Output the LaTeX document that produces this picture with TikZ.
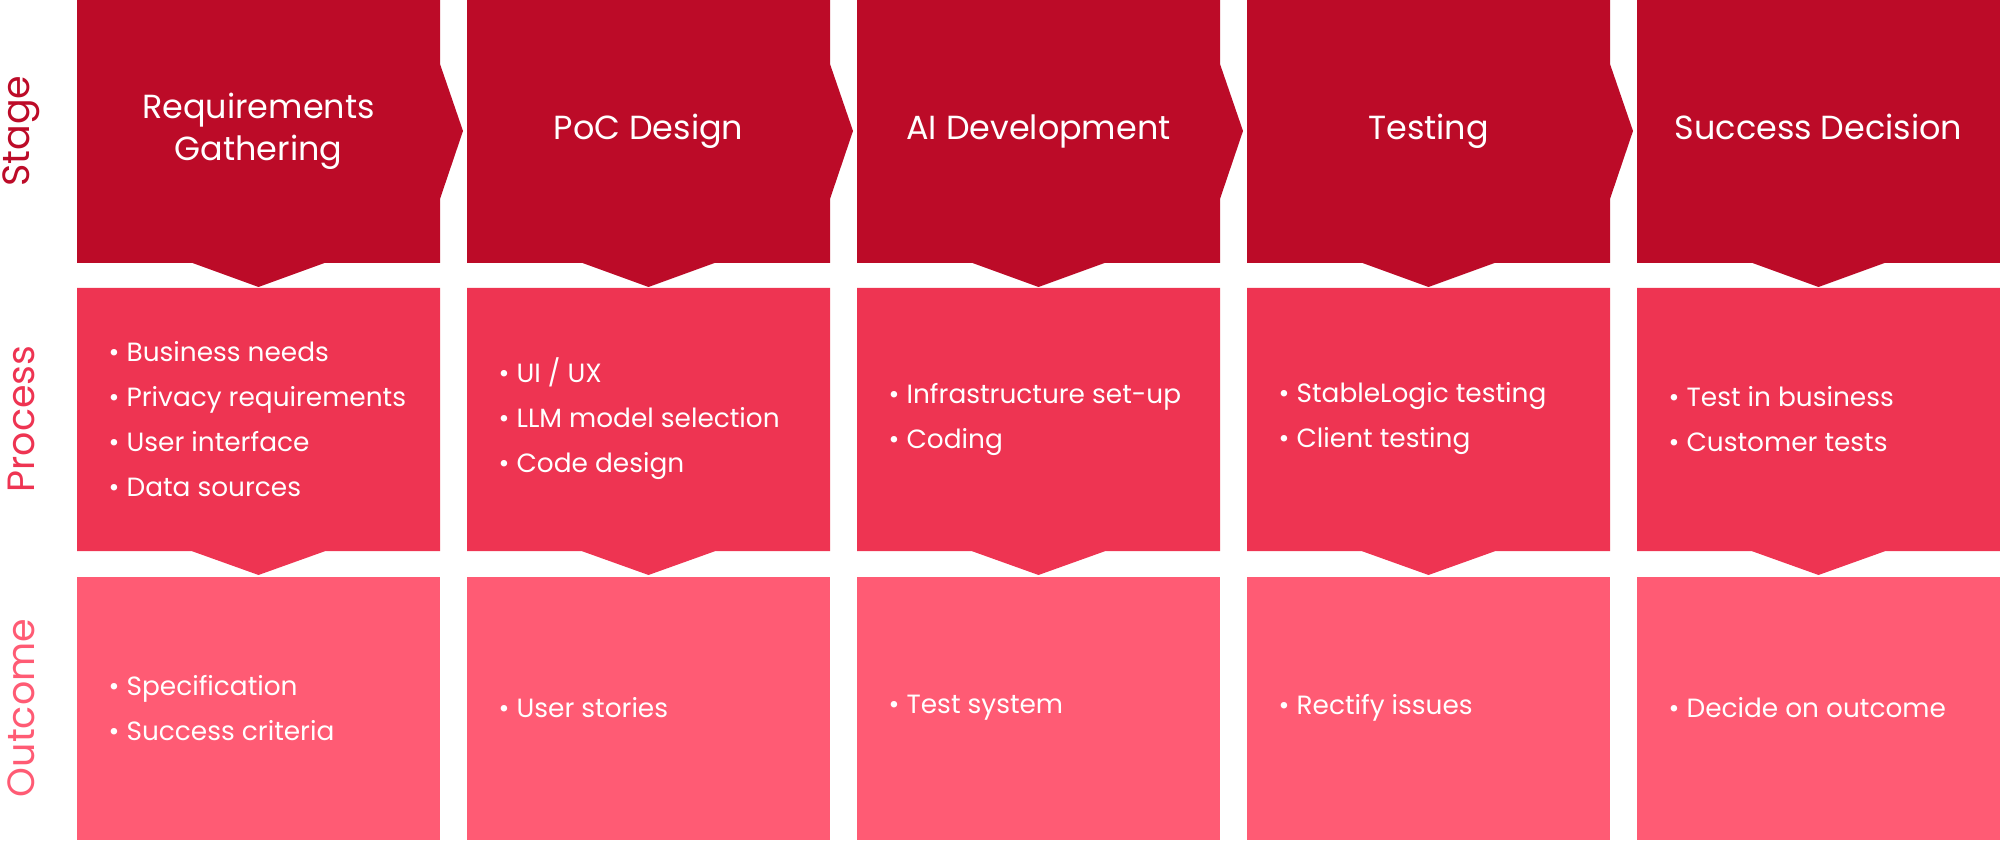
\documentclass[tikz,border=0pt]{standalone}
\usepackage{fontspec}
\setmainfont{Poppins}
\definecolor{stagered}{HTML}{BC0B28}
\definecolor{procred}{HTML}{EE3452}
\definecolor{outpink}{HTML}{FF5B74}

\begin{document}
\begin{tikzpicture}[x=0.01cm, y=-0.01cm,
  title/.style={text=white, font=\fontsize{9.5}{12}\selectfont, align=center},
  items/.style={text=white, font=\fontsize{7.5}{12.8}\selectfont, align=left,
    anchor=west, inner sep=0pt},
  rowlabel/.style={rotate=90, font=\fontsize{10.8}{13}\selectfont}]
\useasboundingbox (0,0) rectangle (2000,843);

\foreach \i/\n/\stage/\proc/\outc in {
  0/req/{Requirements\\Gathering}/{• Business needs\\• Privacy requirements\\• User interface\\• Data sources}/{• Specification\\• Success criteria},
  1/poc/{PoC Design}/{• UI / UX\\• LLM model selection\\• Code design}/{• User stories},
  2/dev/{AI Development}/{• Infrastructure set-up\\• Coding}/{• Test system},
  3/test/{Testing}/{• StableLogic testing\\• Client testing}/{• Rectify issues},
  4/dec/{Success Decision}/{• Test in business\\• Customer tests}/{• Decide on outcome}}
{
  \pgfmathsetmacro\L{77+390*\i}
  \pgfmathsetmacro\R{\L+363}
  \pgfmathsetmacro\M{\L+181.5}
  % stage cell, arrow to the right except for the last one
  \ifnum\i<4
    \fill[stagered] (\L,0) -- (\R,0) -- (\R,64) -- (\R+23,131) -- (\R,199)
      -- (\R,263) -- (\M+66,263) -- (\M,287) -- (\M-66,263) -- (\L,263) -- cycle;
  \else
    \fill[stagered] (\L,0) -- (\R,0) -- (\R,263) -- (\M+66,263) -- (\M,287)
      -- (\M-66,263) -- (\L,263) -- cycle;
  \fi
  % process cell
  \fill[procred] (\L,288) -- (\R,288) -- (\R,551) -- (\M+67,551) -- (\M,575)
    -- (\M-67,551) -- (\L,551) -- cycle;
  % outcome cell
  \fill[outpink] (\L,577) rectangle (\R,840);
  \node[title] (\n-stage) at (\M,131) {\strut\stage\strut};
  \node[items] (\n-proc) at (\L+31,419) {\proc};
  \node[items] (\n-out) at (\L+31,708) {\outc};
}

\node[rowlabel, text=stagered] (stagelbl) at (21,131) {Stage};
\node[rowlabel, text=procred] (proclbl) at (21,419) {Process};
\node[rowlabel, text=outpink] (outlbl) at (21,708) {Outcome};
\end{tikzpicture}
\end{document}
